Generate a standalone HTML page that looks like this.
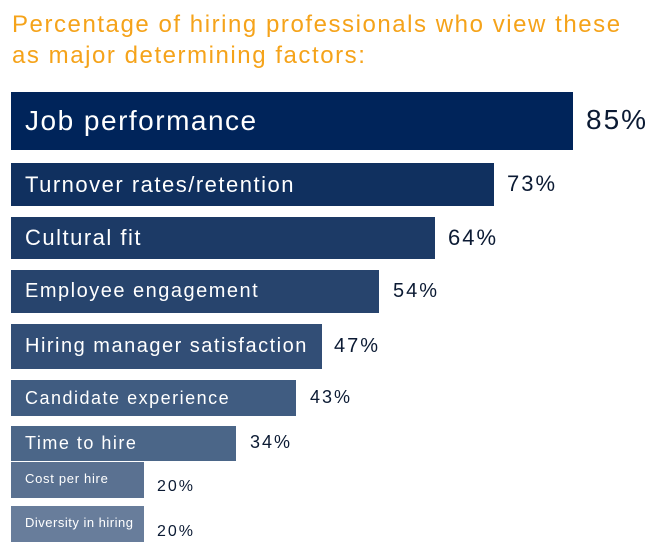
<!DOCTYPE html>
<html><head><style>
body{margin:0;width:667px;height:560px;background:#fff;position:relative;font-family:"Liberation Sans",sans-serif;overflow:hidden}
.t{position:absolute;left:12px;top:9px;color:#f5a31a;font-size:24px;line-height:31px;letter-spacing:1.55px}
.b{position:absolute;left:11px;color:#fff;box-sizing:border-box;padding-left:14px;display:flex;align-items:center;white-space:nowrap;letter-spacing:1.5px}
.p{position:absolute;color:#0b1a33;white-space:nowrap;letter-spacing:2px}
</style></head><body>
<div class="t">Percentage of hiring professionals who view these<br>as major determining factors:</div>

<div class="b" style="top:92px;height:58px;width:562px;background:#00245a;font-size:28px">Job performance</div>
<div class="p" style="left:586px;top:104px;font-size:28px">85%</div>

<div class="b" style="top:163px;height:43px;width:483px;background:#10305f;font-size:22px">Turnover rates/retention</div>
<div class="p" style="left:507px;top:171px;font-size:22px">73%</div>

<div class="b" style="top:217px;height:42px;width:424px;background:#1c3a66;font-size:22px">Cultural fit</div>
<div class="p" style="left:448px;top:225px;font-size:22px">64%</div>

<div class="b" style="top:270px;height:43px;width:368px;background:#27446d;font-size:20px">Employee engagement</div>
<div class="p" style="left:393px;top:280px;font-size:20px">54%</div>

<div class="b" style="top:324px;height:45px;width:311px;background:#324e76;font-size:20px">Hiring manager satisfaction</div>
<div class="p" style="left:334px;top:335px;font-size:20px">47%</div>

<div class="b" style="top:380px;height:36px;width:285px;background:#405c81;font-size:18px">Candidate experience</div>
<div class="p" style="left:310px;top:387px;font-size:18px">43%</div>

<div class="b" style="top:426px;height:35px;width:225px;background:#4b6688;font-size:18px">Time to hire</div>
<div class="p" style="left:250px;top:432px;font-size:18px">34%</div>

<div class="b" style="top:462px;height:36px;width:133px;background:#5a7191;font-size:13px;align-items:flex-start;padding-top:9px;letter-spacing:0.7px">Cost per hire</div>
<div class="p" style="left:157px;top:478px;font-size:16px">20%</div>

<div class="b" style="top:506px;height:36px;width:133px;background:#687d9b;font-size:13px;align-items:flex-start;padding-top:9px;letter-spacing:0.5px">Diversity in hiring</div>
<div class="p" style="left:157px;top:523px;font-size:16px">20%</div>
</body></html>
